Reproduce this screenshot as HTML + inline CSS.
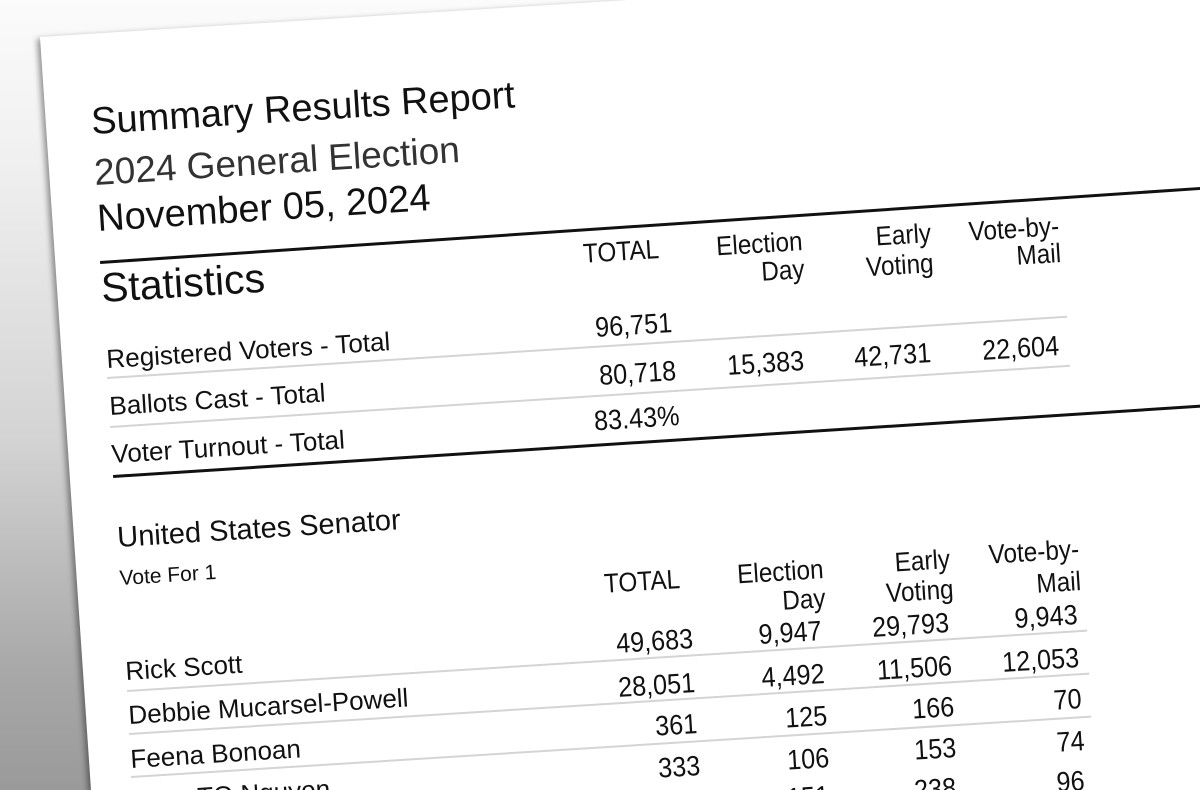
<!DOCTYPE html>
<html><head><meta charset="utf-8"><style>
html,body{margin:0;padding:0;width:1200px;height:790px;overflow:hidden}
body{position:relative;background:linear-gradient(180deg,#fbfbfb 0%,#f0f0f0 20%,#d4d4d4 55%,#a8a8a8 85%,#9a9a9a 100%);font-family:"Liberation Sans",Arial,sans-serif;color:#111}
.pw{position:absolute;left:0;top:0;width:1200px;height:790px;filter:drop-shadow(-3px 2px 3px rgba(0,0,0,.4))}
.paper{position:absolute;left:0;top:0;width:1200px;height:790px;background:#fff;clip-path:polygon(40px 37px,1200px -36px,1200px 790px,91px 790px)}
.t{position:absolute;white-space:nowrap;line-height:1;transform:rotate(-3.6deg);transform-origin:0 83%}
.r{position:absolute;white-space:nowrap;line-height:1;transform:rotate(-3.6deg) scaleX(.9);transform-origin:100% 83%;text-align:right}
.ln{position:absolute;transform-origin:0 0}
</style></head><body>
<div class="pw"><div class="paper"></div></div>

<div class="t" style="left:92px;top:103px;font-size:38px">Summary Results Report</div>
<div class="t" style="left:95px;top:154px;font-size:37px;color:#333">2024 General Election</div>
<div class="t" style="left:98px;top:200px;font-size:38px">November 05, 2024</div>
<div class="ln" style="left:100px;top:261px;width:1103px;height:3px;background:#111;transform:rotate(-3.85deg)"></div>
<div class="t" style="left:102px;top:268px;font-size:41px">Statistics</div>

<div class="r" style="right:540px;top:236px;font-size:27px">TOTAL</div>
<div class="r" style="right:397px;top:228px;font-size:27px">Election</div>
<div class="r" style="right:395px;top:256px;font-size:27px">Day</div>
<div class="r" style="right:268px;top:220px;font-size:27px">Early</div>
<div class="r" style="right:266px;top:250px;font-size:27px">Voting</div>
<div class="r" style="right:140px;top:213px;font-size:27px">Vote-by-</div>
<div class="r" style="right:138px;top:240px;font-size:27px">Mail</div>

<div class="t" style="left:107px;top:346px;font-size:26px">Registered Voters - Total</div>
<div class="r" style="right:527px;top:309px;font-size:28px">96,751</div>
<div class="ln" style="left:107px;top:377px;width:962px;height:2px;background:#d4d4d4;transform:rotate(-3.65deg)"></div>
<div class="t" style="left:110px;top:393px;font-size:26px">Ballots Cast - Total</div>
<div class="r" style="right:523px;top:357px;font-size:28px">80,718</div>
<div class="r" style="right:395px;top:347px;font-size:28px">15,383</div>
<div class="r" style="right:268px;top:339px;font-size:28px">42,731</div>
<div class="r" style="right:140px;top:332px;font-size:28px">22,604</div>
<div class="ln" style="left:110px;top:426px;width:962px;height:2px;background:#d4d4d4;transform:rotate(-3.65deg)"></div>
<div class="t" style="left:112px;top:441px;font-size:26px">Voter Turnout - Total</div>
<div class="r" style="right:520px;top:402px;font-size:28px">83.43%</div>
<div class="ln" style="left:113px;top:475px;width:1092px;height:3px;background:#111;transform:rotate(-3.7deg)"></div>

<div class="t" style="left:118px;top:524px;font-size:29px">United States Senator</div>
<div class="t" style="left:120px;top:568px;font-size:21px">Vote For 1</div>
<div class="r" style="right:519px;top:566px;font-size:27px">TOTAL</div>
<div class="r" style="right:376px;top:556px;font-size:27px">Election</div>
<div class="r" style="right:374px;top:585px;font-size:27px">Day</div>
<div class="r" style="right:249px;top:546px;font-size:27px">Early</div>
<div class="r" style="right:246px;top:576px;font-size:27px">Voting</div>
<div class="r" style="right:120px;top:536px;font-size:27px">Vote-by-</div>
<div class="r" style="right:118px;top:568px;font-size:27px">Mail</div>

<div class="t" style="left:126px;top:658px;font-size:26px">Rick Scott</div>
<div class="r" style="right:506px;top:625px;font-size:28px">49,683</div>
<div class="r" style="right:378px;top:617px;font-size:28px">9,947</div>
<div class="r" style="right:250px;top:609px;font-size:28px">29,793</div>
<div class="r" style="right:122px;top:601px;font-size:28px">9,943</div>
<div class="ln" style="left:127px;top:690px;width:962px;height:2px;background:#d4d4d4;transform:rotate(-3.6deg)"></div>

<div class="t" style="left:129px;top:702px;font-size:26px">Debbie Mucarsel-Powell</div>
<div class="r" style="right:504px;top:669px;font-size:28px">28,051</div>
<div class="r" style="right:375px;top:660px;font-size:28px">4,492</div>
<div class="r" style="right:247px;top:652px;font-size:28px">11,506</div>
<div class="r" style="right:120px;top:644px;font-size:28px">12,053</div>
<div class="ln" style="left:129px;top:733px;width:962px;height:2px;background:#d4d4d4;transform:rotate(-3.6deg)"></div>

<div class="t" style="left:131px;top:746px;font-size:26px">Feena Bonoan</div>
<div class="r" style="right:502px;top:710px;font-size:28px">361</div>
<div class="r" style="right:372px;top:702px;font-size:28px">125</div>
<div class="r" style="right:245px;top:693px;font-size:28px">166</div>
<div class="r" style="right:118px;top:685px;font-size:28px">70</div>
<div class="ln" style="left:131px;top:776px;width:962px;height:2px;background:#d4d4d4;transform:rotate(-3.6deg)"></div>

<div class="t" style="left:133px;top:788px;font-size:26px">Tuan TQ Nguyen</div>
<div class="r" style="right:499px;top:752px;font-size:28px">333</div>
<div class="r" style="right:370px;top:744px;font-size:28px">106</div>
<div class="r" style="right:243px;top:734px;font-size:28px">153</div>
<div class="r" style="right:115px;top:727px;font-size:28px">74</div>
<div class="r" style="right:370px;top:782px;font-size:28px">151</div>
<div class="r" style="right:243px;top:774px;font-size:28px">238</div>
<div class="r" style="right:115px;top:767px;font-size:28px">96</div>
</body></html>
